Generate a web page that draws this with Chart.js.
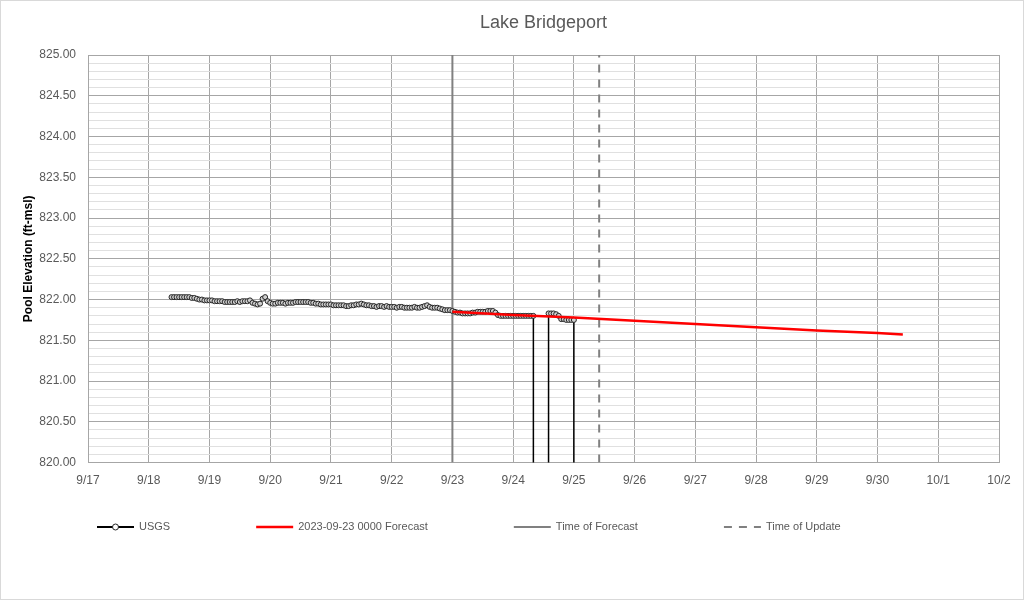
<!DOCTYPE html>
<html>
<head>
<meta charset="utf-8">
<script src="https://cdn.jsdelivr.net/npm/chart.js@4.4.1/dist/chart.umd.min.js"></script>
<style>
html,body{margin:0;padding:0;background:#fff;}
#wrap{width:1024px;height:600px;position:relative;}
canvas{display:block;}
</style>
</head>
<body>
<div id="wrap"><canvas id="c"></canvas></div>
<script>
// ---------- data ----------
const chartTitle = 'Lake Bridgeport';
const yAxisTitle = 'Pool Elevation (ft-msl)';
const xTickLabels = ['9/17','9/18','9/19','9/20','9/21','9/22','9/23','9/24','9/25','9/26','9/27','9/28','9/29','9/30','10/1','10/2'];
const yMin = 820.0;
const yMax = 825.0;

// USGS hourly observations, first reading 9/18 09:00 (hours after 9/17 00:00)
const usgsStartHour = 33;
const usgsValues = [
  // 9/18 09:00 - 23:00
  822.03,822.03,822.03,822.03,822.03,822.03,822.03,822.03,822.02,822.02,822.01,822.00,822.00,821.99,821.99,
  // 9/19
  821.99,821.99,821.98,821.98,821.98,821.98,821.97,821.97,821.97,821.97,821.97,821.98,
  821.97,821.98,821.98,821.98,821.99,821.96,821.95,821.94,821.95,822.01,822.03,821.98,
  // 9/20
  821.96,821.95,821.95,821.96,821.96,821.96,821.95,821.96,821.96,821.96,821.97,821.97,
  821.97,821.97,821.97,821.97,821.96,821.96,821.95,821.95,821.94,821.94,821.94,821.94,
  // 9/21
  821.94,821.93,821.93,821.93,821.93,821.93,821.92,821.92,821.93,821.93,821.94,821.94,
  821.95,821.94,821.93,821.93,821.92,821.92,821.91,821.92,821.92,821.91,821.92,821.91,
  // 9/22
  821.91,821.91,821.90,821.91,821.91,821.90,821.90,821.90,821.90,821.91,821.90,821.90,
  821.91,821.92,821.93,821.91,821.90,821.90,821.90,821.89,821.88,821.87,821.87,821.87,
  // 9/23
  821.86,821.85,821.84,821.84,821.83,821.83,821.83,821.83,821.84,821.84,821.85,821.85,
  821.85,821.85,821.86,821.86,821.86,821.84,821.81,821.80,821.80,821.80,821.80,821.80,
  // 9/24 (missing readings recorded as 0)
  821.80,821.80,821.80,821.80,821.80,821.80,821.80,821.80,821.80,0,0,0,
  0,0,821.83,821.83,821.83,821.82,821.80,821.76,821.76,821.75,821.75,821.75,
  // 9/25 00:00 - 01:00
  821.75,0
];

// Forecast issued 2023-09-23 0000 (time in days after 9/17 00:00)
const forecastDays = [6, 7, 8, 9, 10, 11, 12, 13, 13.4167];
const forecastValues = [821.85, 821.81, 821.78, 821.74, 821.70, 821.66, 821.62, 821.59, 821.57];

const forecastTimeDay = 6;        // 9/23 00:00
const updateTimeDay = 8.4167;     // 9/25 10:00

// ---------- build ----------
const usgsPoints = usgsValues.map((v, i) => ({x: (usgsStartHour + i) / 24, y: v}));
const forecastPoints = forecastDays.map((d, i) => ({x: d, y: forecastValues[i]}));

const FONT = '"Liberation Sans", Arial, sans-serif';
Chart.defaults.font.family = FONT;
Chart.defaults.color = '#595959';

const decorPlugin = {
  id: 'decor',
  beforeDraw(chart) {
    const ctx = chart.ctx;
    ctx.save();
    ctx.fillStyle = '#ffffff';
    ctx.fillRect(0, 0, chart.width, chart.height);
    ctx.strokeStyle = '#d9d9d9';
    ctx.lineWidth = 1;
    ctx.strokeRect(0.5, 0.5, chart.width - 1, chart.height - 1);
    ctx.restore();
  },
  afterDraw(chart) {
    const ctx = chart.ctx;
    const area = chart.chartArea;
    ctx.save();
    // title
    ctx.font = '18px ' + FONT;
    ctx.fillStyle = '#595959';
    ctx.textAlign = 'center';
    ctx.textBaseline = 'middle';
    ctx.fillText(chartTitle, (area.left + area.right) / 2, 23);
    // legend
    ctx.font = '11px ' + FONT;
    ctx.textAlign = 'left';
    const y = chart.height - 73;
    let x = area.left + 9;
    const lineW = 37;
    const order = [0, 1, 2, 3];
    order.forEach(idx => {
      const ds = chart.data.datasets[idx];
      ctx.strokeStyle = ds.borderColor;
      ctx.lineWidth = ds.legendLineWidth || ds.borderWidth;
      ctx.setLineDash(ds.borderDash || []);
      ctx.beginPath();
      ctx.moveTo(x, y);
      ctx.lineTo(x + lineW, y);
      ctx.stroke();
      ctx.setLineDash([]);
      if (ds.pointRadius > 0) {
        ctx.beginPath();
        ctx.arc(x + lineW / 2, y, 3, 0, Math.PI * 2);
        ctx.fillStyle = '#ffffff';
        ctx.fill();
        ctx.lineWidth = 1;
        ctx.strokeStyle = ds.pointBorderColor;
        ctx.stroke();
      }
      ctx.fillStyle = '#595959';
      ctx.fillText(ds.label, x + lineW + 5, y);
      x += lineW + 5 + ctx.measureText(ds.label).width + 86;
    });
    ctx.restore();
  }
};

const isMajor = v => Math.abs(v * 2 - Math.round(v * 2)) < 1e-6;

new Chart(document.getElementById('c'), {
  type: 'line',
  data: {
    datasets: [
      {
        label: 'USGS',
        data: usgsPoints,
        borderColor: '#000000',
        borderWidth: 1.5,
        legendLineWidth: 2,
        pointRadius: 2.5,
        pointBorderWidth: 1,
        pointBorderColor: '#262626',
        pointBackgroundColor: '#cfcfcf',
        tension: 0,
        order: 2
      },
      {
        label: '2023-09-23 0000 Forecast',
        data: forecastPoints,
        borderColor: '#ff0000',
        borderWidth: 2.5,
        pointRadius: 0,
        tension: 0,
        order: 1
      },
      {
        label: 'Time of Forecast',
        data: [{x: forecastTimeDay, y: yMin}, {x: forecastTimeDay, y: yMax}],
        borderColor: '#808080',
        borderWidth: 2,
        pointRadius: 0,
        order: 3
      },
      {
        label: 'Time of Update',
        data: [{x: updateTimeDay, y: yMin}, {x: updateTimeDay, y: yMax}],
        borderColor: '#808080',
        borderWidth: 2,
        borderDash: [8, 7],
        pointRadius: 0,
        order: 3
      }
    ]
  },
  options: {
    responsive: true,
    maintainAspectRatio: false,
    animation: false,
    devicePixelRatio: 1,
    layout: {padding: {left: 17, right: 25, top: 55, bottom: 101}},
    plugins: {
      legend: {display: false},
      title: {display: false},
      tooltip: {enabled: false}
    },
    scales: {
      x: {
        type: 'linear',
        min: 0,
        max: xTickLabels.length - 1,
        grid: {color: '#a6a6a6', lineWidth: 1, drawTicks: false},
        border: {color: '#a6a6a6'},
        ticks: {
          stepSize: 1,
          autoSkip: false,
          maxRotation: 0,
          padding: 11,
          font: {size: 12},
          color: '#595959',
          callback: v => {
            const i = Math.round(v);
            return Math.abs(v - i) < 1e-6 ? xTickLabels[i] : '';
          }
        }
      },
      y: {
        type: 'linear',
        min: yMin,
        max: yMax,
        afterFit: scale => { scale.width = 71; },
        grid: {
          drawTicks: false,
          color: c => isMajor(c.tick.value) ? '#a6a6a6' : '#e0e0e0',
          lineWidth: 1
        },
        border: {color: '#a6a6a6'},
        ticks: {
          stepSize: 0.1,
          autoSkip: false,
          padding: 12,
          font: {size: 12},
          color: '#595959',
          callback: v => isMajor(v) ? v.toFixed(2) : ''
        },
        title: {
          display: true,
          text: yAxisTitle,
          color: '#000000',
          font: {size: 12, weight: 'bold'},
          padding: {top: 4, bottom: 4}
        }
      }
    }
  },
  plugins: [decorPlugin]
});
</script>
</body>
</html>
